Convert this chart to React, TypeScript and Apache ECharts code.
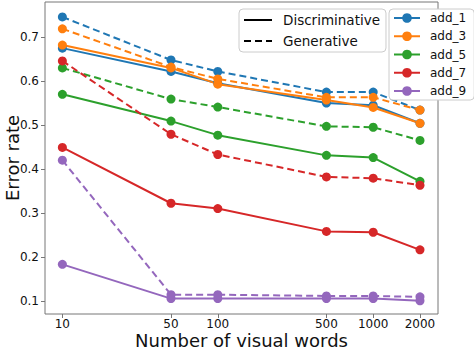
import React, { useEffect, useRef } from "react";
import * as echarts from "echarts";

const visualWords = [10, 50, 100, 500, 1000, 2000];
const xTicks = [10, 50, 100, 500, 1000, 2000];
const yTicks = [0.1, 0.2, 0.3, 0.4, 0.5, 0.6, 0.7];
const groupNames = ["add_1", "add_3", "add_5", "add_7", "add_9"];
const groupColors = ["#1f77b4", "#ff7f0e", "#2ca02c", "#d62728", "#9467bd"];

const discriminative = [
  [0.675, 0.622, 0.595, 0.55, 0.545, 0.504],
  [0.682, 0.63, 0.593, 0.557, 0.54, 0.504],
  [0.57, 0.509, 0.477, 0.431, 0.426, 0.372],
  [0.449, 0.322, 0.31, 0.258, 0.256, 0.216],
  [0.183, 0.105, 0.105, 0.105, 0.105, 0.1],
];
const generative = [
  [0.746, 0.648, 0.622, 0.575, 0.575, 0.534],
  [0.719, 0.632, 0.605, 0.563, 0.563, 0.534],
  [0.63, 0.559, 0.541, 0.497, 0.495, 0.465],
  [0.646, 0.479, 0.433, 0.382, 0.379, 0.363],
  [0.42, 0.114, 0.114, 0.111, 0.111, 0.109],
];
const styleNames = ["Discriminative", "Generative"];

const FONT = "DejaVu Sans";
const DASH = [7, 4];

export default function App() {
  const ref = useRef<HTMLDivElement>(null);
  useEffect(() => {
    if (!ref.current) return;
    const chart = echarts.init(ref.current, null, { renderer: "svg" });
    const series: any[] = [];
    groupNames.forEach((name, i) => {
      const mk = (vals: number[], dashed: boolean) => ({
        type: "line",
        name,
        data: visualWords.map((x, j) => [x, vals[j]]),
        symbol: "circle",
        symbolSize: 9,
        color: groupColors[i],
        itemStyle: { color: groupColors[i] },
        lineStyle: { color: groupColors[i], width: 2, type: dashed ? DASH : "solid" },
        z: 2,
      });
      series.push(mk(discriminative[i], false));
      series.push(mk(generative[i], true));
    });
    styleNames.forEach((name, k) => {
      series.push({
        type: "line",
        name,
        data: [],
        symbol: "none",
        color: "#000",
        lineStyle: { color: "#000", width: 2, type: k === 0 ? "solid" : DASH },
      });
    });
    const hiddenSymbol = { color: "rgba(0,0,0,0)", borderColor: "rgba(0,0,0,0)", borderWidth: 0, opacity: 0 };
    chart.setOption({
      animation: false,
      textStyle: { fontFamily: FONT },
      grid: {
        left: 45,
        right: 36,
        top: 2,
        bottom: 35,
        containLabel: false,
        outerBoundsMode: "none",
        show: true,
        borderColor: "#777",
        borderWidth: 1,
      },
      xAxis: {
        type: "log",
        logBase: 10,
        min: 7.73,
        max: 2612,
        name: "Number of visual words",
        nameLocation: "middle",
        nameGap: 18,
        nameMoveOverlap: false,
        nameTextStyle: { fontSize: 18, lineHeight: 16, color: "#111", fontFamily: FONT },
        axisLine: { show: false },
        splitLine: { show: false },
        minorTick: { show: false },
        axisTick: { show: true, inside: false, length: 4, customValues: xTicks, lineStyle: { color: "#777" } },
        axisLabel: {
          customValues: xTicks,
          fontSize: 12,
          color: "#111",
          fontFamily: FONT,
          margin: 4,
          formatter: (v: number) => String(Math.round(v)),
        },
      },
      yAxis: {
        type: "value",
        min: 0.07,
        max: 0.78,
        name: "Error rate",
        nameLocation: "middle",
        nameGap: 24,
        nameMoveOverlap: false,
        nameTextStyle: { fontSize: 18, color: "#111", fontFamily: FONT },
        axisLine: { show: false },
        splitLine: { show: false },
        axisTick: { show: true, inside: false, length: 4, customValues: yTicks, lineStyle: { color: "#777" } },
        axisLabel: {
          customValues: yTicks,
          fontSize: 12,
          color: "#111",
          fontFamily: FONT,
          margin: 6,
          formatter: (v: number) => v.toFixed(1),
        },
      },
      legend: [
        {
          data: styleNames.map((n) => ({ name: n, itemStyle: hiddenSymbol })),
          orient: "vertical",
          left: 239,
          top: 9,
          itemWidth: 28,
          itemHeight: 14,
          itemGap: 7,
          padding: [4, 6, 4, 4],
          backgroundColor: "#fff",
          borderColor: "#ccc",
          borderWidth: 1,
          borderRadius: 4,
          textStyle: { fontSize: 13.5, color: "#111", fontFamily: FONT, padding: [0, 0, 0, 6] },
        },
        {
          data: groupNames,
          orient: "vertical",
          left: 389,
          top: 9,
          itemWidth: 26,
          itemHeight: 12,
          itemGap: 6.25,
          padding: [3, 8, 3, 4],
          backgroundColor: "#fff",
          borderColor: "#ccc",
          borderWidth: 1,
          borderRadius: 4,
          textStyle: { fontSize: 12, color: "#111", fontFamily: FONT, padding: [0, 0, 0, 5] },
        },
      ],
      series,
    });
    return () => chart.dispose();
  }, []);
  return <div ref={ref} style={{ width: 474, height: 349, position: "absolute", left: 0, top: 0 }} />;
}
